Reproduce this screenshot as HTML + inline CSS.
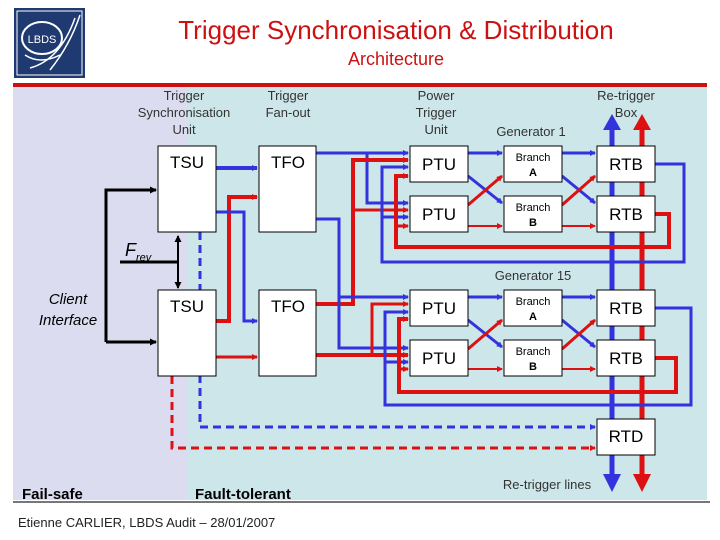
<!DOCTYPE html>
<html><head><meta charset="utf-8"><style>
html,body{margin:0;padding:0;background:#fff}
svg{display:block}
text{font-family:"Liberation Sans",sans-serif}
</style></head><body>
<svg width="720" height="540" viewBox="0 0 720 540" xmlns="http://www.w3.org/2000/svg">
<defs>
<marker id="ab" markerWidth="6" markerHeight="6" refX="5" refY="3" orient="auto" markerUnits="userSpaceOnUse"><path d="M0,0 L6,3 L0,6z" fill="#3333dd"/></marker>
<marker id="ar" markerWidth="6" markerHeight="6" refX="5" refY="3" orient="auto" markerUnits="userSpaceOnUse"><path d="M0,0 L6,3 L0,6z" fill="#dd1111"/></marker>
<marker id="ak" markerWidth="7" markerHeight="7" refX="6" refY="3.5" orient="auto" markerUnits="userSpaceOnUse"><path d="M0,0 L7,3.5 L0,7z" fill="#000"/></marker>
</defs>
<!-- backgrounds -->
<rect x="13" y="86" width="175" height="414" fill="#dcdcf0"/>
<rect x="188" y="86" width="519" height="414" fill="#cde6ea"/>
<line x1="13" y1="85" x2="707" y2="85" stroke="#cc1111" stroke-width="4"/>
<line x1="13" y1="502" x2="710" y2="502" stroke="#777" stroke-width="2"/>
<!-- logo -->
<rect x="14" y="8" width="71" height="70" fill="#1f3a70"/>
<rect x="17" y="11" width="65" height="64" fill="none" stroke="#fff" stroke-width="1"/>
<ellipse cx="42" cy="38" rx="20" ry="16" fill="none" stroke="#fff" stroke-width="2"/>
<path d="M30,68 Q60,60 75,18 M50,70 Q70,45 80,15 M25,55 Q40,65 60,55" fill="none" stroke="#fff" stroke-width="1.5"/>
<text x="42" y="43" font-size="11" fill="#fff" text-anchor="middle">LBDS</text>
<text x="396" y="39" font-size="26" fill="#cc1111" text-anchor="middle">Trigger Synchronisation &amp; Distribution</text>
<text x="396" y="65" font-size="18" fill="#cc1111" text-anchor="middle">Architecture</text>
<!-- column headers -->
<g font-size="13" fill="#333" text-anchor="middle">
<text x="184" y="100">Trigger</text><text x="184" y="117">Synchronisation</text><text x="184" y="134">Unit</text>
<text x="288" y="100">Trigger</text><text x="288" y="117">Fan-out</text>
<text x="436" y="100">Power</text><text x="436" y="117">Trigger</text><text x="436" y="134">Unit</text>
<text x="626" y="100">Re-trigger</text><text x="626" y="117">Box</text>
<text x="531" y="136">Generator 1</text>
<text x="533" y="280">Generator 15</text>
<text x="547" y="489">Re-trigger lines</text>
</g>
<!-- thick vertical re-trigger lines -->
<line x1="612" y1="128" x2="612" y2="476" stroke="#3333dd" stroke-width="5"/>
<path d="M603,130 L612,114 L621,130z" fill="#3333dd"/>
<path d="M603,474 L612,492 L621,474z" fill="#3333dd"/>
<line x1="642" y1="128" x2="642" y2="476" stroke="#dd1111" stroke-width="5"/>
<path d="M633,130 L642,114 L651,130z" fill="#dd1111"/>
<path d="M633,474 L642,492 L651,474z" fill="#dd1111"/>
<!-- wires -->
<g fill="none" stroke-width="3">
<!-- TSU/TFO -->
<path d="M216,168 H257" stroke="#3333dd" stroke-width="4" marker-end="url(#ab)"/>
<path d="M216,321 H229 V197 H257" stroke="#dd1111" stroke-width="4" marker-end="url(#ar)"/>
<path d="M216,212 H244 V321 H257" stroke="#3333dd" marker-end="url(#ab)"/>
<path d="M216,357 H257" stroke="#dd1111" marker-end="url(#ar)"/>
<path d="M200,232 V427 H595" stroke="#3333dd" stroke-dasharray="8,5" marker-end="url(#ab)"/>
<path d="M172,376 V448 H595" stroke="#dd1111" stroke-dasharray="8,5" marker-end="url(#ar)"/>
<!-- gen1 inputs -->
<path d="M316,153 H408" stroke="#3333dd" marker-end="url(#ab)"/>
<path d="M367,153 V203 H408" stroke="#3333dd" marker-end="url(#ab)"/>
<path d="M316,304 H353 V160 H408" stroke="#dd1111" stroke-width="4" marker-end="url(#ar)"/>
<path d="M353,210 H408" stroke="#dd1111" marker-end="url(#ar)"/>
<path d="M655,164 H684 V262 H382 V167 H408" stroke="#3333dd" marker-end="url(#ab)"/>
<path d="M382,217 H408" stroke="#3333dd" marker-end="url(#ab)"/>
<path d="M655,214 H669 V247 H396 V176 H408" stroke="#dd1111" stroke-width="4" marker-end="url(#ar)"/>
<path d="M396,226 H408" stroke="#dd1111" marker-end="url(#ar)"/>
<!-- gen1 middle -->
<path d="M468,153 H502" stroke="#3333dd" marker-end="url(#ab)"/>
<path d="M468,176 L502,203" stroke="#3333dd" marker-end="url(#ab)"/>
<path d="M468,205 L502,176" stroke="#dd1111" marker-end="url(#ar)"/>
<path d="M468,226 H502" stroke="#dd1111" stroke-width="2" marker-end="url(#ar)"/>
<path d="M562,153 H595" stroke="#3333dd" marker-end="url(#ab)"/>
<path d="M562,176 L595,203" stroke="#3333dd" marker-end="url(#ab)"/>
<path d="M562,205 L595,176" stroke="#dd1111" marker-end="url(#ar)"/>
<path d="M562,226 H595" stroke="#dd1111" stroke-width="2" marker-end="url(#ar)"/>
<!-- gen15 inputs -->
<path d="M316,219 H339 V297 H408" stroke="#3333dd" marker-end="url(#ab)"/>
<path d="M339,297 V348 H408" stroke="#3333dd" marker-end="url(#ab)"/>
<path d="M316,355 H408" stroke="#dd1111" stroke-width="4" marker-end="url(#ar)"/>
<path d="M372,355 V304 H408" stroke="#dd1111" marker-end="url(#ar)"/>
<path d="M655,308 H691 V405 H385 V312 H408" stroke="#3333dd" marker-end="url(#ab)"/>
<path d="M385,362 H408" stroke="#3333dd" marker-end="url(#ab)"/>
<path d="M655,358 H676 V392 H399 V319 H408" stroke="#dd1111" stroke-width="4" marker-end="url(#ar)"/>
<path d="M399,369 H408" stroke="#dd1111" marker-end="url(#ar)"/>
<!-- gen15 middle -->
<path d="M468,297 H502" stroke="#3333dd" marker-end="url(#ab)"/>
<path d="M468,320 L502,347" stroke="#3333dd" marker-end="url(#ab)"/>
<path d="M468,349 L502,320" stroke="#dd1111" marker-end="url(#ar)"/>
<path d="M468,369 H502" stroke="#dd1111" stroke-width="2" marker-end="url(#ar)"/>
<path d="M562,297 H595" stroke="#3333dd" marker-end="url(#ab)"/>
<path d="M562,320 L595,347" stroke="#3333dd" marker-end="url(#ab)"/>
<path d="M562,349 L595,320" stroke="#dd1111" marker-end="url(#ar)"/>
<path d="M562,369 H595" stroke="#dd1111" stroke-width="2" marker-end="url(#ar)"/>
<!-- black -->
<path d="M106,342 V190 H156" stroke="#000" marker-end="url(#ak)"/>
<path d="M106,342 H156" stroke="#000" marker-end="url(#ak)"/>
<path d="M120,262 H178" stroke="#000"/>
<path d="M178,262 V236" stroke="#000" stroke-width="2" marker-end="url(#ak)"/>
<path d="M178,262 V288" stroke="#000" stroke-width="2" marker-end="url(#ak)"/>
</g>
<!-- boxes -->
<g fill="#fff" stroke="#000" stroke-width="1">
<rect x="158" y="146" width="58" height="86"/><rect x="259" y="146" width="57" height="86"/>
<rect x="158" y="290" width="58" height="86"/><rect x="259" y="290" width="57" height="86"/>
<rect x="410" y="146" width="58" height="36"/><rect x="410" y="196" width="58" height="36"/>
<rect x="504" y="146" width="58" height="36"/><rect x="504" y="196" width="58" height="36"/>
<rect x="597" y="146" width="58" height="36"/><rect x="597" y="196" width="58" height="36"/>
<rect x="410" y="290" width="58" height="36"/><rect x="410" y="340" width="58" height="36"/>
<rect x="504" y="290" width="58" height="36"/><rect x="504" y="340" width="58" height="36"/>
<rect x="597" y="290" width="58" height="36"/><rect x="597" y="340" width="58" height="36"/>
<rect x="597" y="419" width="58" height="36"/>
</g>
<g font-size="17" fill="#000" text-anchor="middle">
<text x="187" y="168">TSU</text><text x="288" y="168">TFO</text>
<text x="187" y="312">TSU</text><text x="288" y="312">TFO</text>
<text x="439" y="170">PTU</text><text x="439" y="220">PTU</text>
<text x="626" y="170">RTB</text><text x="626" y="220">RTB</text>
<text x="439" y="314">PTU</text><text x="439" y="364">PTU</text>
<text x="626" y="314">RTB</text><text x="626" y="364">RTB</text>
<text x="626" y="442">RTD</text>
</g>
<g font-size="11" fill="#000" text-anchor="middle">
<text x="533" y="161">Branch</text><text x="533" y="176" font-weight="bold">A</text>
<text x="533" y="211">Branch</text><text x="533" y="226" font-weight="bold">B</text>
<text x="533" y="305">Branch</text><text x="533" y="320" font-weight="bold">A</text>
<text x="533" y="355">Branch</text><text x="533" y="370" font-weight="bold">B</text>
</g>
<text x="125" y="256" font-size="18" font-style="italic">F<tspan font-size="11" dy="5">rev</tspan></text>
<text x="68" y="304" font-size="15" font-style="italic" text-anchor="middle">Client</text>
<text x="68" y="325" font-size="15" font-style="italic" text-anchor="middle">Interface</text>
<text x="22" y="499" font-size="15" font-weight="bold">Fail-safe</text>
<text x="195" y="499" font-size="15" font-weight="bold">Fault-tolerant</text>
<text x="18" y="527" font-size="13" fill="#222">Etienne CARLIER, LBDS Audit – 28/01/2007</text>
</svg>
</body></html>
